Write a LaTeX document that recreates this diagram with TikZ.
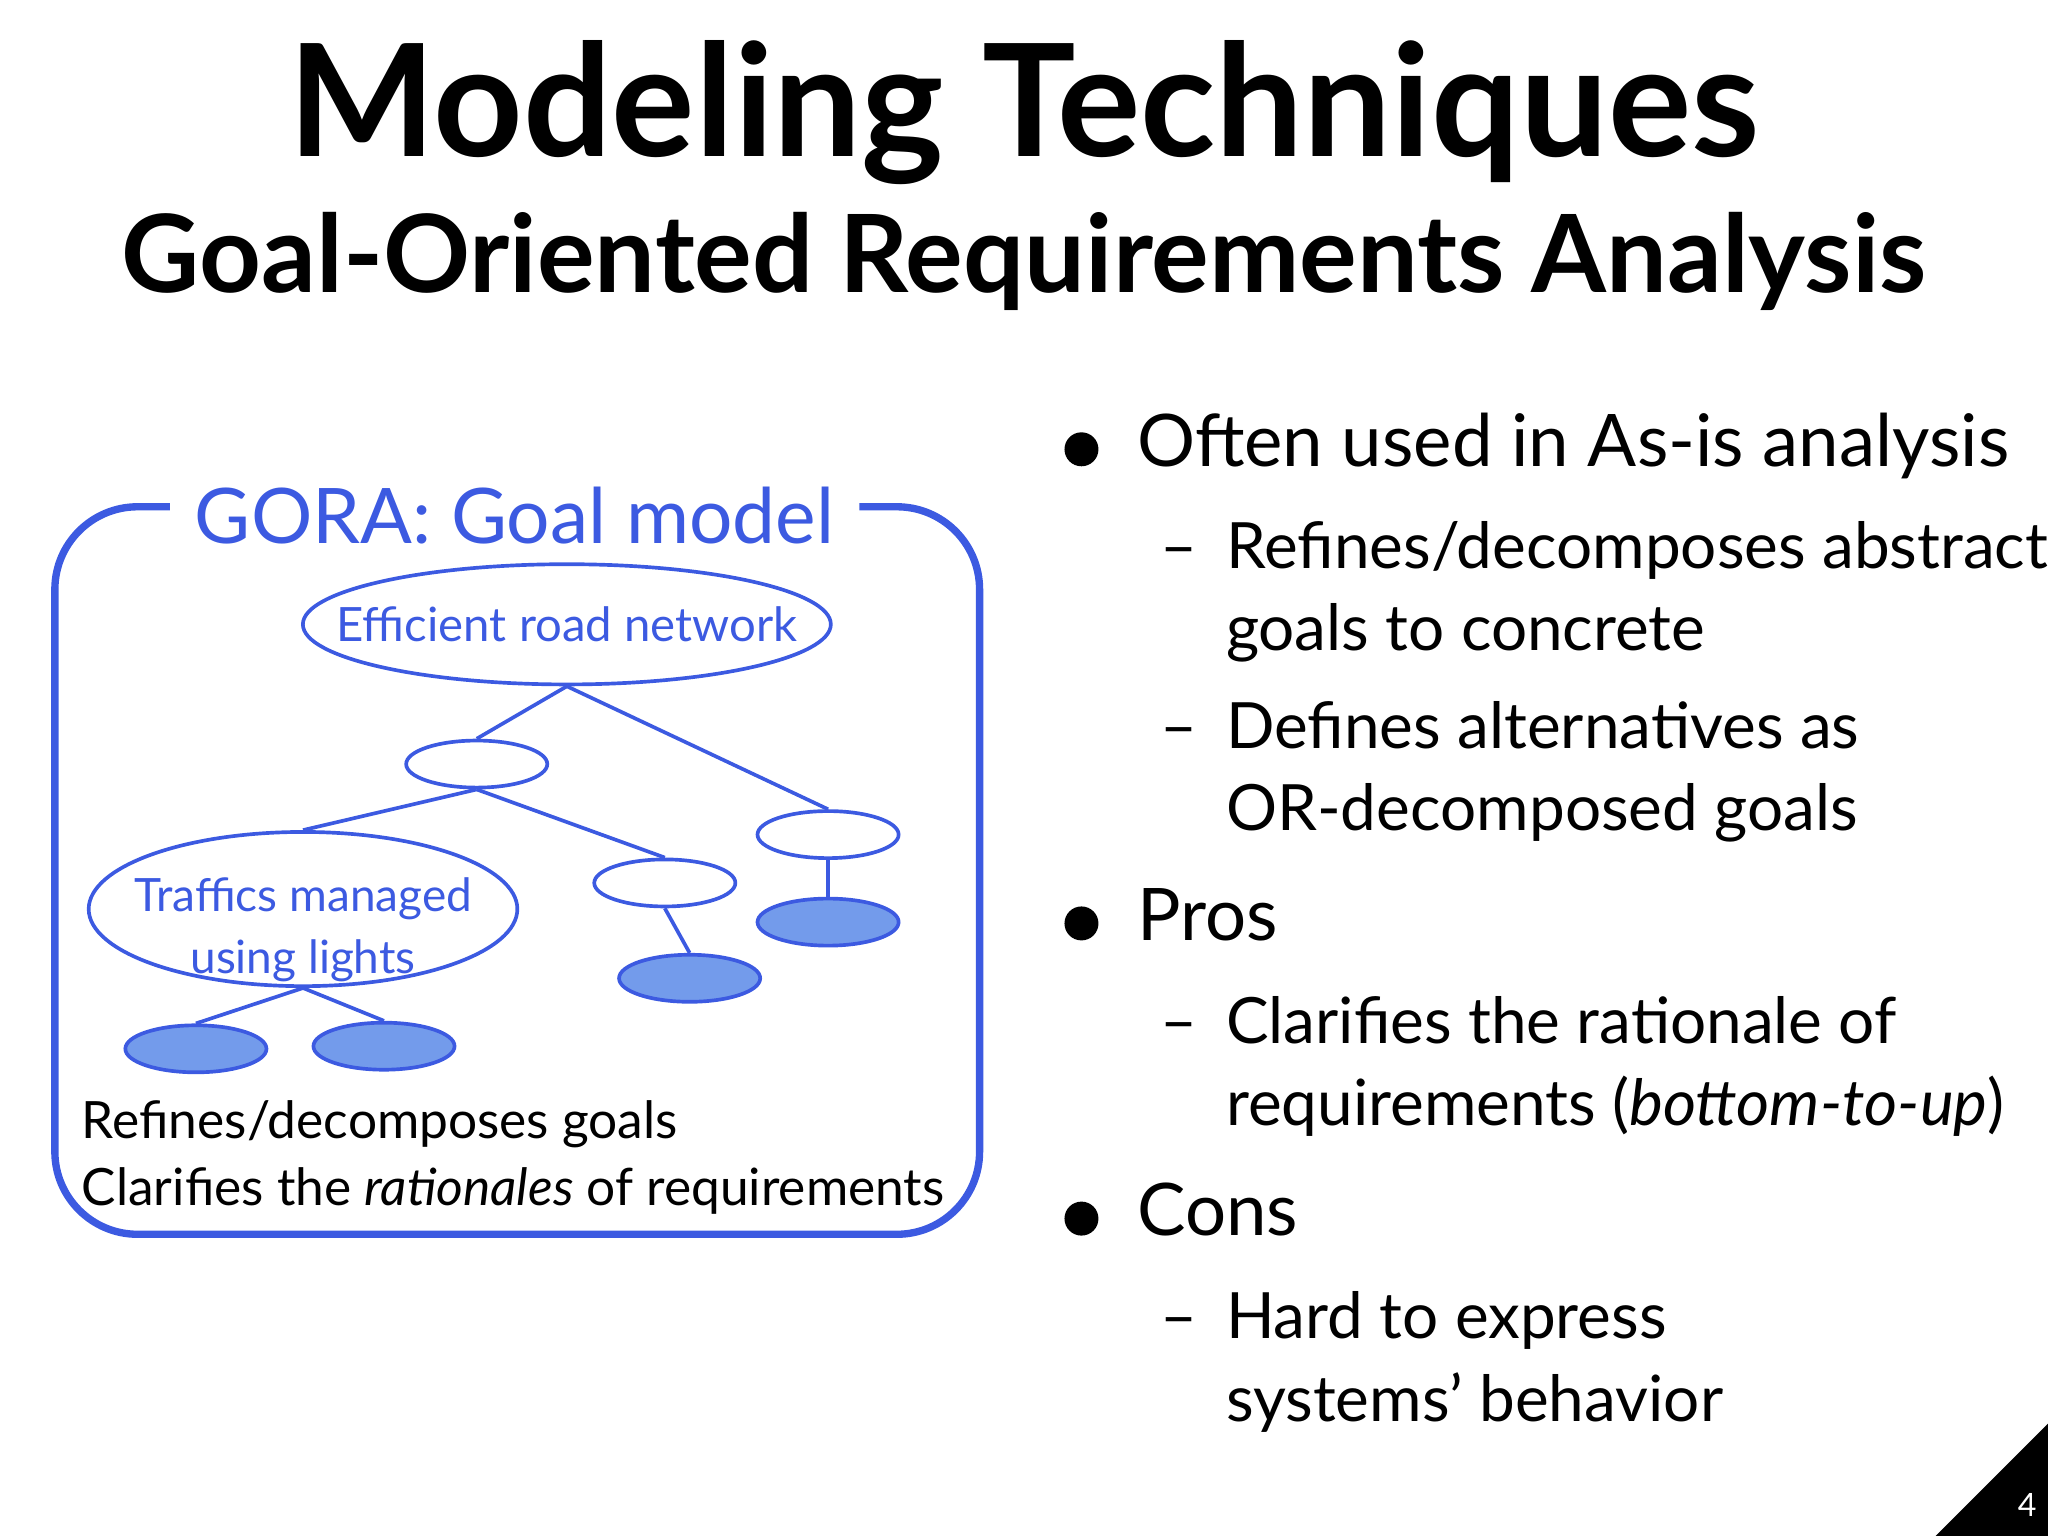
\documentclass[tikz,border=0pt]{standalone}
\usepackage{fontspec}
\setmainfont{Lato}
\usetikzlibrary{shapes.geometric}
\definecolor{gb}{RGB}{60,90,225}
\definecolor{gf}{RGB}{115,155,235}
\tikzset{x=0.01cm,y=-0.01cm,
 goal/.style={ellipse,draw=gb,thick,inner sep=0pt,minimum width=1.08cm,minimum height=0.36cm},
 leaf/.style={goal,fill=gf},
 lk/.style={draw=gb,thick},
 gtxt/.style={text=gb,font=\fontsize{10.3}{13.5}\selectfont,align=center},
 bl/.style={anchor=base west,inner sep=0pt,font=\fontsize{15.8}{18}\selectfont},
 sb/.style={anchor=base west,inner sep=0pt,font=\fontsize{13.9}{16}\selectfont}}
\begin{document}
\begin{tikzpicture}
\useasboundingbox (0,0) rectangle (1568,1176);
\node[font=\fontsize{34}{36}\bfseries\selectfont] (t) at (784,86) {Modeling Techniques};
\node[font=\fontsize{23.5}{25}\bfseries\selectfont] (st) at (784,200) {Goal-Oriented Requirements Analysis};
% box
\draw[gb,line width=1.6pt,rounded corners=18] (130,388) -- (42,388) -- (42,945) -- (750,945) -- (750,388) -- (658,388);
\node[gb,font=\fontsize{16.7}{18}\selectfont] (gt) at (394,395) {GORA: Goal model};
\node[goal,minimum width=4.04cm,minimum height=0.92cm] (g1) at (434,478) {};
\node[gtxt] (g1t) at (g1.center) {Efficient road network};
\node[goal] (g2) at (365,585) {};
\node[goal] (g3) at (634,639) {};
\node[goal,minimum width=3.28cm,minimum height=1.18cm] (g4) at (232,696) {};
\node[gtxt,font=\fontsize{10}{13.5}\selectfont] (g4t) at (232,712) {Traffics managed\\using lights};
\node[goal] (g5) at (509,676) {};
\node[leaf] (l1) at (634,706) {};
\node[leaf] (l2) at (528,749) {};
\node[leaf] (l3) at (150,803) {};
\node[leaf] (l4) at (294,801) {};
\draw[lk] (g1.south) -- (g2.north);
\draw[lk] (g1.south) -- (g3.north);
\draw[lk] (g2.south) -- (g4.north);
\draw[lk] (g2.south) -- (g5.north);
\draw[lk] (g3.south) -- (l1.north);
\draw[lk] (g5.south) -- (l2.north);
\draw[lk] (g4.south) -- (l3.north);
\draw[lk] (g4.south) -- (l4.north);
\node[anchor=base west,inner sep=0pt,font=\fontsize{11.2}{13}\selectfont] (bt) at (62,872) {Refines/decomposes goals};
\node[anchor=base west,inner sep=0pt,font=\fontsize{11.2}{13}\selectfont] (bt2) at (62,923) {Clarifies the \textit{rationales} of requirements};
% bullets
\foreach \y in {357,720,946}{\fill (828,{\y-13}) circle (0.13cm);}
\node[bl] (b1) at (870,357) {Often used in As-is analysis};
\node[sb] (s1d) at (888,435) {–};
\node[sb] (s1) at (938,435) {Refines/decomposes abstract};
\node[sb] (s1b) at (938,498) {goals to concrete};
\node[sb] (s2d) at (888,573) {–};
\node[sb] (s2) at (938,573) {Defines alternatives as};
\node[sb] (s2b) at (938,636) {OR-decomposed goals};
\node[bl] (b2) at (870,720) {Pros};
\node[sb] (s3d) at (888,799) {–};
\node[sb] (s3) at (938,799) {Clarifies the rationale of};
\node[sb] (s3b) at (938,862) {requirements (\textit{bottom-to-up})};
\node[bl] (b3) at (870,946) {Cons};
\node[sb] (s4d) at (888,1025) {–};
\node[sb] (s4) at (938,1025) {Hard to express};
\node[sb] (s4b) at (938,1088) {systems’ behavior};
\fill (1568,1090) -- (1568,1176) -- (1482,1176) -- cycle;
\node[white,font=\fontsize{7}{8}\selectfont] (pn) at (1552,1152) {4};
\end{tikzpicture}
\end{document}
